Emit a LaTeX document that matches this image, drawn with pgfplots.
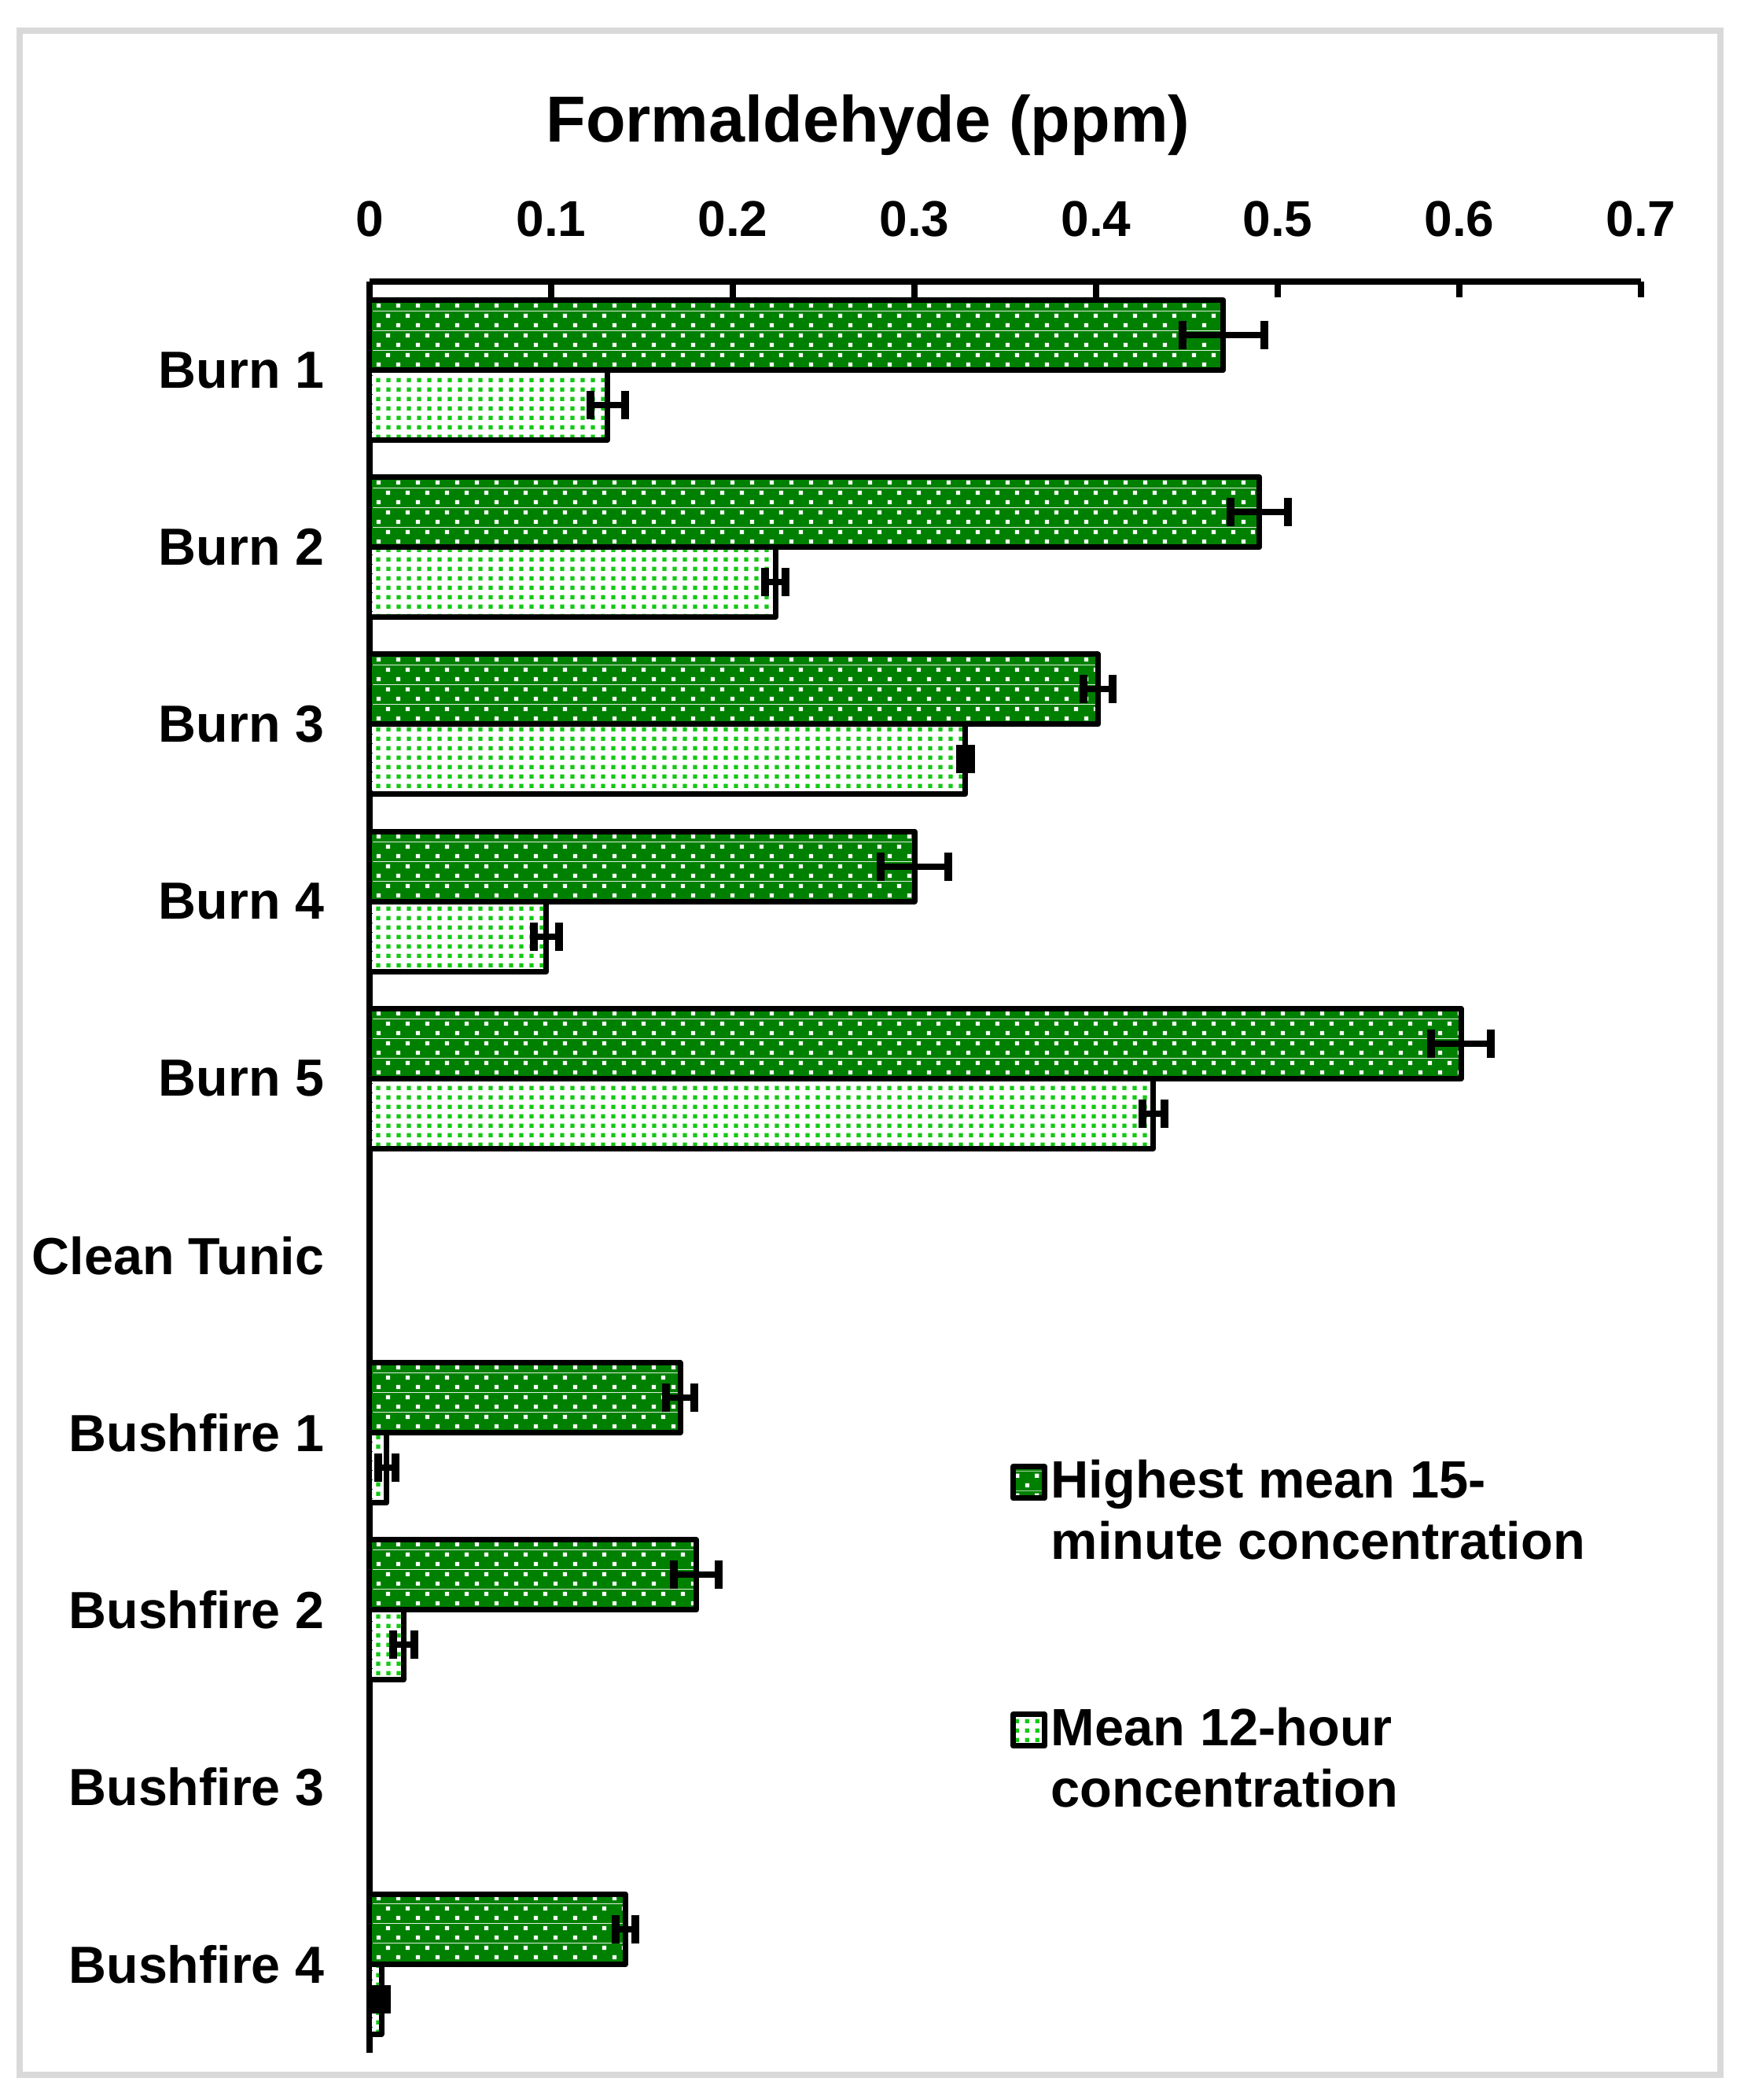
\documentclass[border=0pt]{standalone}
\usepackage{fontspec}
\setmainfont{Liberation Sans}
\usepackage{pgfplots}
\usepackage{pgfplotstable}
\pgfplotsset{compat=1.18}
\usetikzlibrary{patterns}
\definecolor{darkgr}{RGB}{0,128,0}
\definecolor{lightgr}{RGB}{20,200,20}
\definecolor{framegray}{RGB}{217,217,217}

\pgfdeclarepatterninherentlycolored{darkdots}{\pgfpointorigin}{\pgfqpoint{6.25pt}{6.25pt}}{\pgfqpoint{6.25pt}{6.25pt}}{%
  \pgfsetfillcolor{darkgr}%
  \pgfpathrectangle{\pgfpointorigin}{\pgfqpoint{6.25pt}{6.25pt}}\pgfusepath{fill}%
  \pgfsetfillcolor{white}%
  \pgfpathrectangle{\pgfqpoint{1pt}{1pt}}{\pgfqpoint{1.35pt}{1.35pt}}%
  \pgfpathrectangle{\pgfqpoint{4.125pt}{4.125pt}}{\pgfqpoint{1.35pt}{1.35pt}}%
  \pgfusepath{fill}}
\pgfdeclarepatterninherentlycolored{lightdots}{\pgfpointorigin}{\pgfqpoint{3.125pt}{2.9pt}}{\pgfqpoint{3.125pt}{2.9pt}}{%
  \pgfsetfillcolor{white}%
  \pgfpathrectangle{\pgfpointorigin}{\pgfqpoint{3.125pt}{2.9pt}}\pgfusepath{fill}%
  \pgfsetfillcolor{lightgr}%
  \pgfpathrectangle{\pgfqpoint{0.9pt}{0.8pt}}{\pgfqpoint{1.35pt}{1.35pt}}%
  \pgfusepath{fill}}

% non-zero values with errors
\pgfplotstableread{
p v e
9 0.470 0.0225
8 0.490 0.0158
7 0.401 0.008
6 0.300 0.0188
5 0.601 0.0165
3 0.171 0.0076
2 0.180 0.0123
0 0.141 0.0055
}\darkdata
\pgfplotstableread{
p v e
9 0.131 0.0095
8 0.2234 0.0056
7 0.328 0.003
6 0.0974 0.007
5 0.4316 0.006
3 0.0095 0.0046
2 0.0187 0.0058
0 0.0065 0.003
}\lightdata
% zero values (Clean Tunic, Bushfire 3)
\pgfplotstableread{
p v
4 0
1 0
}\zerodata

\begin{document}
\begin{tikzpicture}
\useasboundingbox (0,0) rectangle (554.5pt,667.5pt);
\draw[framegray, line width=2pt] (6.25pt,8pt) rectangle (547pt,657.75pt);
\begin{axis}[
  at={(117.5pt,15pt)}, anchor=south west,
  scale only axis, width=404.25pt, height=563pt,
  xbar, bar width=22.25pt,
  xmin=0, xmax=0.7, ymin=-0.5, ymax=9.5,
  clip=false,
  axis x line*=top, axis y line*=left,
  axis line style={line width=2pt, black},
  xtick={0,0.1,0.2,0.3,0.4,0.5,0.6,0.7},
  xticklabels={0,0.1,0.2,0.3,0.4,0.5,0.6,0.7},
  xtick style={line width=2pt, black},
  tick align=inside, major tick length=5pt,
  ytick={0,1,2,3,4,5,6,7,8,9},
  yticklabels={Bushfire 4,Bushfire 3,Bushfire 2,Bushfire 1,Clean Tunic,Burn 5,Burn 4,Burn 3,Burn 2,Burn 1},
  ytick style={draw=none},
  xticklabel style={font=\fontsize{16}{19}\selectfont\bfseries, inner sep=0pt, anchor=south, yshift=14pt},
  yticklabel style={font=\fontsize{16.6}{19}\selectfont\bfseries, inner sep=0pt, anchor=east, xshift=-14.25pt},
  title={Formaldehyde (ppm)},
  title style={at={(0.392,1)}, anchor=base, yshift=38.25pt, inner sep=0pt, font=\fontsize{20.7}{24}\selectfont\bfseries},
  legend style={at={(0.504,0.3344)}, anchor=north west, draw=none, fill=none,
    inner sep=0pt, outer sep=0pt, row sep=0pt,
    font=\fontsize{16.7}{19.5}\selectfont\bfseries,
    cells={anchor=base west},
    nodes={anchor=base west, inner sep=0pt, text height=12pt, text depth=66.75pt},
    /tikz/every odd column/.append style={column sep=1.2pt}},
]
\addplot[draw=black, line width=1.75pt, line join=round, pattern=darkdots, bar shift=11.125pt,
  legend image code/.code={\draw[draw=black, line width=1.75pt, pattern=darkdots] (0pt,0pt) rectangle (10pt,10pt);},
  error bars/.cd, x dir=both, x explicit, error mark=|,
  error bar style={line width=2pt, black},
  error mark options={line width=2.5pt, black, mark size=4.5pt}]
  table[x=v, y=p, x error=e] {\darkdata};
\addplot[draw=black, line width=1.75pt, line join=round, pattern=lightdots, bar shift=-11.125pt,
  legend image code/.code={\draw[draw=black, line width=1.75pt, pattern=lightdots] (0pt,0pt) rectangle (10pt,10pt);},
  error bars/.cd, x dir=both, x explicit, error mark=|,
  error bar style={line width=2pt, black},
  error mark options={line width=2.5pt, black, mark size=4.5pt}]
  table[x=v, y=p, x error=e] {\lightdata};
\addplot[forget plot, draw=black, line width=1.2pt, pattern=darkdots, bar shift=11.125pt]
  table[x=v, y=p] {\zerodata};
\addplot[forget plot, draw=black, line width=1.2pt, pattern=lightdots, bar shift=-11.125pt]
  table[x=v, y=p] {\zerodata};
\legend{{\begin{tabular}[t]{@{}l@{}}Highest mean 15-\\minute concentration\end{tabular}},
        {\begin{tabular}[t]{@{}l@{}}Mean 12-hour\\concentration\end{tabular}}}
\end{axis}
\end{tikzpicture}
\end{document}
